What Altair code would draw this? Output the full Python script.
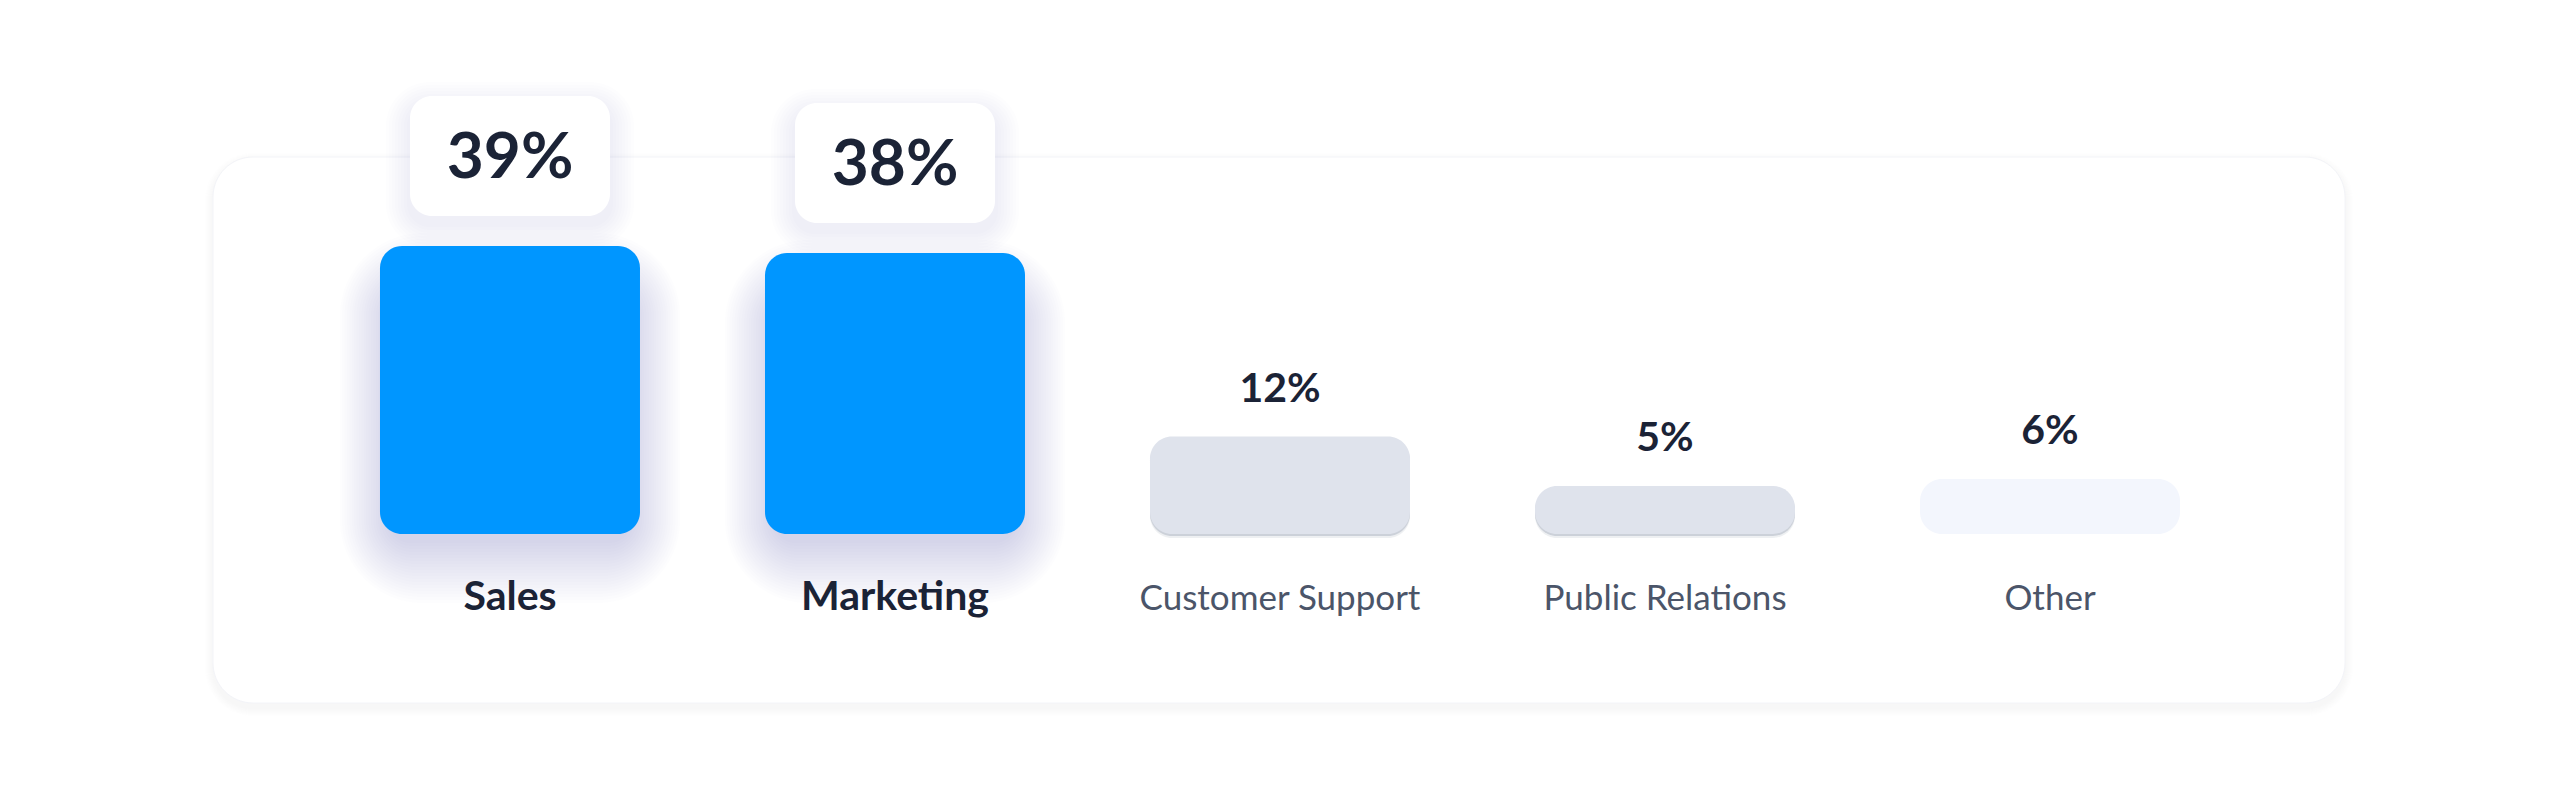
import altair as alt
import pandas as pd

categories = ["Sales", "Marketing", "Customer Support", "Public Relations", "Other"]
values = [39, 38, 12, 5, 6]
value_labels = ["39%", "38%", "12%", "5%", "6%"]
bar_colors = ["#0096FF", "#0096FF", "#DFE3EC", "#DFE3EC", "#F3F6FD"]

major = categories[:2]
minor = categories[2:]
shadowed_minor = categories[2:4]

df = pd.DataFrame({"category": categories, "value": values, "label": value_labels})
deco = pd.DataFrame({"k": [0]})

W, H = 2544, 784
BASE = -1.8
FONT = "Lato"
DARK = "#1B2336"
MUTED = "#4B5569"

xs = alt.Scale(domain=categories, range=[309.5, 2234.5], paddingInner=0.3247, paddingOuter=0.1623)
ys = alt.Scale(domain=[BASE, 39], range=[526, 238])

X = alt.X("category:N", sort=categories, axis=None, scale=xs)
Y = alt.Y("value:Q", axis=None, scale=ys)
Y_BASE = alt.YDatum(datum=BASE, type="quantitative", axis=None, scale=ys)
Y2_BASE = alt.Y2Datum(datum=BASE)
COLOR = alt.Color("category:N", scale=alt.Scale(domain=categories, range=bar_colors), legend=None)

base = alt.Chart(df)
layers = []

# panel shadow + panel
PX0, PX1, PY0, PY1 = 205, 2337, 149, 695
for s in range(1, 9):
    layers.append(
        alt.Chart(deco).mark_rect(cornerRadius=40 + s, color="#8A96B4", opacity=0.010).encode(
            x=alt.value(PX0 - s), x2=alt.value(PX1 + s),
            y=alt.value(PY0 - s + 4), y2=alt.value(PY1 + s + 5),
        )
    )
layers.append(
    alt.Chart(deco).mark_rect(cornerRadius=40, color="white", stroke="#F3F4F8", strokeWidth=1).encode(
        x=alt.value(PX0), x2=alt.value(PX1), y=alt.value(PY0), y2=alt.value(PY1)
    )
)

major_filter = alt.FieldOneOfPredicate(field="category", oneOf=major)
minor_filter = alt.FieldOneOfPredicate(field="category", oneOf=minor)

# blue bar soft shadows
for i in range(1, 22):
    s = 3 * i
    layers.append(
        base.transform_filter(major_filter).mark_bar(
            width=240 + int(1.6 * s), cornerRadius=20 + s, color="#7889AE", opacity=0.015,
            yOffset=-s + 50, y2Offset=s + 6,
        ).encode(x=X, y=Y, y2=Y2_BASE)
    )

# value box shadows
for i in range(1, 9):
    s = 3 * i
    layers.append(
        base.transform_filter(major_filter).mark_bar(
            width=200 + 2 * s, cornerRadius=20 + s, color="#8A96B4", opacity=0.014,
            yOffset=-150 - s + 10, y2Offset=-30 + s + 8,
        ).encode(x=X, y=Y, y2=alt.Y2("value:Q"))
    )

# grey bar bottom shadow
for dy, op in [(2, 0.35), (4, 0.15)]:
    layers.append(
        base.transform_filter(alt.FieldOneOfPredicate(field="category", oneOf=shadowed_minor)).mark_bar(
            width=260, cornerRadius=22, color="#8E97AB", opacity=op,
            yOffset=dy, y2Offset=dy,
        ).encode(x=X, y=Y, y2=Y2_BASE)
    )

# bars
layers.append(
    base.mark_bar(width=260, cornerRadius=22).encode(x=X, y=Y, y2=Y2_BASE, color=COLOR)
)

# value boxes
layers.append(
    base.transform_filter(major_filter).mark_bar(
        width=200, cornerRadius=22, color="white", yOffset=-150, y2Offset=-30
    ).encode(x=X, y=Y, y2=alt.Y2("value:Q"))
)

# big value labels
layers.append(
    base.transform_filter(major_filter).mark_text(
        font=FONT, fontSize=64, fontWeight="bold", color=DARK, baseline="alphabetic", dy=-68
    ).encode(x=X, y=Y, text="label:N")
)

# small value labels
layers.append(
    base.transform_filter(minor_filter).mark_text(
        font=FONT, fontSize=41, fontWeight="bold", color=DARK, baseline="alphabetic", dy=-35
    ).encode(x=X, y=Y, text="label:N")
)

# category labels
layers.append(
    base.transform_filter(major_filter).mark_text(
        font=FONT, fontSize=41, fontWeight="bold", color=DARK, baseline="alphabetic", dy=76
    ).encode(x=X, y=Y_BASE, text="category:N")
)
layers.append(
    base.transform_filter(minor_filter).mark_text(
        font=FONT, fontSize=35, fontWeight="normal", color=MUTED, baseline="alphabetic", dy=76
    ).encode(x=X, y=Y_BASE, text="category:N")
)

chart = alt.layer(*layers).properties(
    width=W, height=H, padding=0, autosize="none", background="white"
).configure_view(stroke=None)

chart.save("out.html", embed_options={"renderer": "svg", "actions": False})
